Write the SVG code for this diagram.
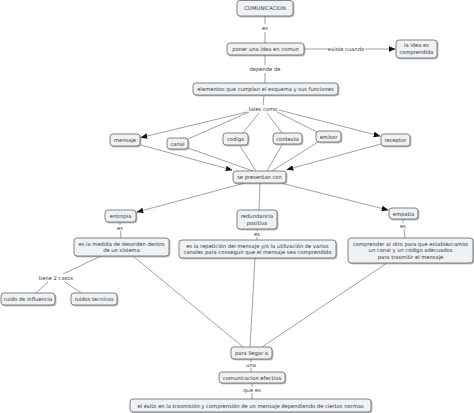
<svg xmlns="http://www.w3.org/2000/svg" width="474" height="413" viewBox="0 0 474 413">
<style>
.n rect{fill:#eef2f5;stroke:#666;stroke-width:0.8;filter:url(#sh)}
text{font-family:"DejaVu Sans","Liberation Sans",sans-serif;font-size:5.2px;fill:#333;text-anchor:middle}
.c line,.c polyline{stroke:#777;stroke-width:0.7;fill:none}
.c .a{marker-end:url(#ar)}
</style>
<defs>
<marker id="ar" viewBox="0 0 10 10" refX="9" refY="5" markerWidth="7" markerHeight="7" markerUnits="userSpaceOnUse" orient="auto">
<path d="M0,1 L10,5 L0,9 Z" fill="#111"/>
</marker>
<filter id="sh" x="-10%" y="-20%" width="130%" height="160%">
<feDropShadow dx="1" dy="1" stdDeviation="0.6" flood-color="#888" flood-opacity="0.6"/>
</filter>
</defs>
<g class="c" id="connectors">
<line x1="265" y1="16" x2="265" y2="24"/>
<line x1="265" y1="32" x2="265" y2="43"/>
<line x1="304" y1="49" x2="328" y2="49"/>
<line class="a" x1="365" y1="49" x2="395" y2="49"/>
<line x1="265" y1="55" x2="265" y2="65"/>
<line x1="265" y1="73" x2="265" y2="83"/>
<line x1="264" y1="95" x2="263" y2="105"/>
<line class="a" x1="247" y1="112" x2="141" y2="137.5"/>
<line x1="249" y1="112" x2="188" y2="139"/>
<line x1="259" y1="113" x2="243" y2="133"/>
<line x1="267" y1="113" x2="282" y2="133"/>
<line x1="277" y1="112" x2="317" y2="132"/>
<line class="a" x1="279" y1="110" x2="380" y2="136"/>
<line class="a" x1="141" y1="145" x2="232" y2="170"/>
<line x1="188" y1="148" x2="253" y2="171"/>
<line x1="240" y1="146" x2="256" y2="171"/>
<line x1="282" y1="145" x2="267" y2="171"/>
<line x1="318" y1="142" x2="272" y2="171"/>
<line class="a" x1="381" y1="144" x2="287" y2="169.5"/>
<line class="a" x1="245" y1="183" x2="137" y2="212"/>
<line x1="260" y1="183" x2="259" y2="210"/>
<line class="a" x1="281" y1="183" x2="388" y2="210"/>
<line x1="120" y1="222" x2="120" y2="225"/>
<line x1="120.5" y1="231" x2="121" y2="238"/>
<line x1="257" y1="229" x2="257" y2="231"/>
<line x1="257" y1="237" x2="257" y2="240"/>
<line x1="403" y1="219" x2="403" y2="223"/>
<line x1="404" y1="229" x2="405" y2="238"/>
<line x1="101" y1="256" x2="63" y2="274"/>
<line x1="48" y1="282" x2="36" y2="293"/>
<line x1="65" y1="282" x2="81" y2="293"/>
<line x1="133" y1="256" x2="243" y2="347"/>
<line x1="255" y1="258" x2="250" y2="347"/>
<line x1="387" y1="263" x2="262" y2="347"/>
<line x1="251" y1="359" x2="251" y2="362"/>
<line x1="251" y1="368" x2="251" y2="372"/>
<line x1="252" y1="383" x2="252" y2="387"/>
<line x1="252" y1="393" x2="252" y2="399"/>
</g>
<g id="labels">
<text x="265" y="30">es</text>
<text x="346" y="51">existe cuando</text>
<text x="265" y="71">depende de</text>
<text x="263" y="111">tales como</text>
<text x="120" y="230">es</text>
<text x="257" y="236">es</text>
<text x="403" y="228">es</text>
<text x="56" y="280">tiene 2 casos</text>
<text x="251" y="367">una</text>
<text x="252" y="392">que es</text>
</g>
<g class="n" id="n1"><rect x="237" y="0.5" width="56" height="15.5" rx="3"/><text x="265" y="10">COMUNICACION</text></g>
<g class="n" id="n2"><rect x="227" y="43" width="77" height="12" rx="3"/><text x="265.5" y="51">poner una idea en comun</text></g>
<g class="n" id="n3"><rect x="396" y="40" width="41" height="18" rx="3"/><text x="416.5" y="47">la idea es</text><text x="416.5" y="54">comprendida</text></g>
<g class="n" id="n4"><rect x="193" y="83" width="145" height="12" rx="3"/><text x="265.5" y="91">elementos que cumplan el esquema y sus funciones</text></g>
<g class="n" id="n5"><rect x="110" y="134" width="30" height="12" rx="3"/><text x="125" y="142">mensaje</text></g>
<g class="n" id="n6"><rect x="167" y="138" width="21" height="11" rx="3"/><text x="177.5" y="145.5">canal</text></g>
<g class="n" id="n7"><rect x="223" y="133" width="25" height="12" rx="3"/><text x="235.5" y="141">codigo</text></g>
<g class="n" id="n8"><rect x="273" y="133" width="29" height="11" rx="3"/><text x="287.5" y="140.5">contexto</text></g>
<g class="n" id="n9"><rect x="316" y="131" width="25" height="11" rx="3"/><text x="328.5" y="138.5">emisor</text></g>
<g class="n" id="n10"><rect x="381" y="134" width="29" height="12" rx="3"/><text x="395.5" y="142">receptor</text></g>
<g class="n" id="n11"><rect x="233" y="171" width="53" height="12" rx="3"/><text x="259.5" y="179">se presentan con</text></g>
<g class="n" id="n12"><rect x="105" y="210" width="31" height="12" rx="3"/><text x="120.5" y="218">entropia</text></g>
<g class="n" id="n13"><rect x="237" y="210" width="40" height="19" rx="3"/><text x="257" y="217.5">redundancia</text><text x="257" y="224.5">positiva</text></g>
<g class="n" id="n14"><rect x="389" y="208" width="29" height="11" rx="3"/><text x="403.5" y="215.5">empatia</text></g>
<g class="n" id="n15"><rect x="74" y="238" width="95" height="18" rx="3"/><text x="121.5" y="245.5">es la medida de desorden dentro</text><text x="121.5" y="252">de un sistema</text></g>
<g class="n" id="n16"><rect x="179" y="240" width="157" height="18" rx="3"/><text x="257.5" y="247.5">es la repetición del mensaje y/o la utilización de varios</text><text x="257.5" y="254">canales para conseguir que el mensaje sea comprendido</text></g>
<g class="n" id="n17"><rect x="348" y="238" width="125" height="25" rx="3"/><text x="410.5" y="245.5">comprender al otro para que establezcamos</text><text x="410.5" y="252">un canal y un código adecuados</text><text x="410.5" y="258.5">para trasmitir el mensaje</text></g>
<g class="n" id="n18"><rect x="1" y="293" width="54" height="12" rx="3"/><text x="28" y="301">ruido de influencia</text></g>
<g class="n" id="n19"><rect x="71" y="293" width="46" height="12" rx="3"/><text x="94" y="301">ruidos tecnicos</text></g>
<g class="n" id="n20"><rect x="231" y="347" width="41" height="12" rx="3"/><text x="251.5" y="355">para llegar a</text></g>
<g class="n" id="n21"><rect x="219" y="372" width="66" height="11" rx="3"/><text x="252" y="379.5">comunicacion efectiva</text></g>
<g class="n" id="n22"><rect x="130" y="399" width="241" height="13" rx="3"/><text x="250.5" y="407.5">el éxito en la trasmisión y comprensión de un mensaje dependiendo de ciertas normas</text></g>
</svg>
